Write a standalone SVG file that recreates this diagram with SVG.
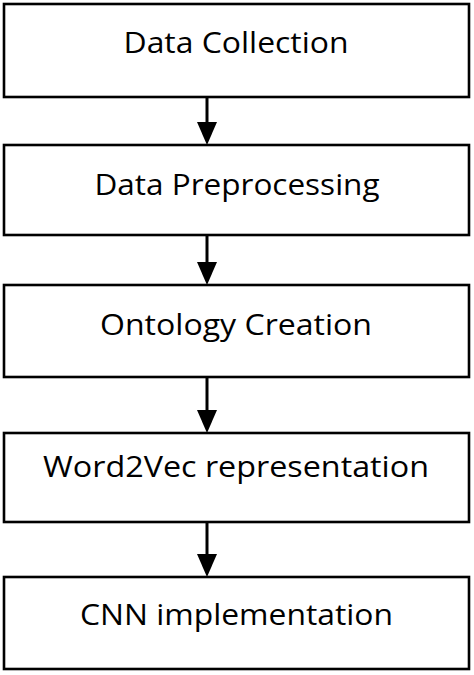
<svg xmlns="http://www.w3.org/2000/svg" width="474" height="675" viewBox="0 0 474 675">
<style>
.box{fill:#fff;stroke:#000;stroke-width:2.6}
.lbl{font-family:"Open Sans","Liberation Sans",sans-serif;font-size:30px;fill:#000;text-anchor:middle}
.ln{stroke:#000;stroke-width:3;fill:none}
.hd{fill:#000}
</style>
<rect width="474" height="675" fill="#fff"/>
<g id="connectors">
<line class="ln" x1="207" y1="97" x2="207" y2="125"/><polygon class="hd" points="197,122 217,122 207,145"/>
<line class="ln" x1="207" y1="235" x2="207" y2="265"/><polygon class="hd" points="197,262 217,262 207,285"/>
<line class="ln" x1="207" y1="377" x2="207" y2="413"/><polygon class="hd" points="197,410 217,410 207,433"/>
<line class="ln" x1="207" y1="522" x2="207" y2="557"/><polygon class="hd" points="197,554 217,554 207,577"/>
</g>
<g id="n1"><rect class="box" x="4" y="4" width="465" height="93"/><text class="lbl" x="236" y="53" textLength="225" lengthAdjust="spacingAndGlyphs">Data Collection</text></g>
<g id="n2"><rect class="box" x="4" y="145" width="465" height="90"/><text class="lbl" x="237" y="195" textLength="285" lengthAdjust="spacingAndGlyphs">Data Preprocessing</text></g>
<g id="n3"><rect class="box" x="4" y="285" width="465" height="92"/><text class="lbl" x="236" y="335" textLength="272" lengthAdjust="spacingAndGlyphs">Ontology Creation</text></g>
<g id="n4"><rect class="box" x="4" y="433" width="465" height="89"/><text class="lbl" x="236" y="477" textLength="386" lengthAdjust="spacingAndGlyphs">Word2Vec representation</text></g>
<g id="n5"><rect class="box" x="4" y="577" width="465" height="92"/><text class="lbl" x="236.5" y="625" textLength="313" lengthAdjust="spacingAndGlyphs">CNN implementation</text></g>
</svg>
